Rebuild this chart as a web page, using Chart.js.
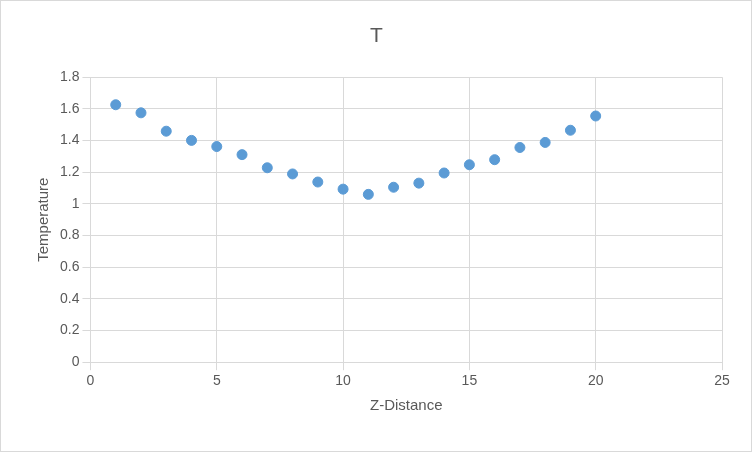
<!DOCTYPE html>
<html>
<head>
<script src="https://cdn.jsdelivr.net/npm/chart.js@4"></script>
<style>
body { margin: 0; background: #fff; }
#wrap { width: 750px; height: 450px; border: 1px solid #d9d9d9; }
</style>
</head>
<body>
<div id="wrap"><canvas id="c" width="750" height="450"></canvas></div>
<script>
var zDistance = [1, 2, 3, 4, 5, 6, 7, 8, 9, 10, 11, 12, 13, 14, 15, 16, 17, 18, 19, 20];
var temperature = [1.626, 1.575, 1.459, 1.401, 1.362, 1.311, 1.228, 1.189, 1.138, 1.093,
    1.060, 1.105, 1.131, 1.195, 1.247, 1.279, 1.356, 1.388, 1.465, 1.555];

var points = [];
for (var i = 0; i < zDistance.length; i++) {
    points.push({ x: zDistance[i], y: temperature[i] });
}

Chart.defaults.font.family = "'Liberation Sans', Arial, sans-serif";
Chart.defaults.color = '#595959';

new Chart("c", {
    type: "scatter",
    data: {
        datasets: [{
            label: "T",
            data: points,
            backgroundColor: '#5b9bd5',
            borderColor: '#5b9bd5',
            pointRadius: 5,
            pointHoverRadius: 5
        }]
    },
    options: {
        responsive: false,
        animation: false,
        layout: { padding: { left: 30, right: 29, top: 9, bottom: 32 } },
        plugins: {
            legend: { display: false },
            title: {
                display: true,
                text: 'T',
                font: { size: 21, weight: 'normal' },
                color: '#595959',
                padding: { top: 14, bottom: 28 }
            }
        },
        scales: {
            x: {
                min: 0, max: 25,
                ticks: { stepSize: 5, font: { size: 14 } },
                grid: { color: '#d9d9d9' },
                border: { color: '#d9d9d9' },
                title: { display: true, text: 'Z-Distance', font: { size: 15 } }
            },
            y: {
                min: 0, max: 1.8,
                ticks: { stepSize: 0.2, font: { size: 14 }, callback: function (v) { return Math.round(v * 10) / 10; } },
                grid: { color: '#d9d9d9' },
                border: { display: false },
                title: { display: true, text: 'Temperature', font: { size: 15 } }
            }
        }
    }
});
</script>
</body>
</html>
